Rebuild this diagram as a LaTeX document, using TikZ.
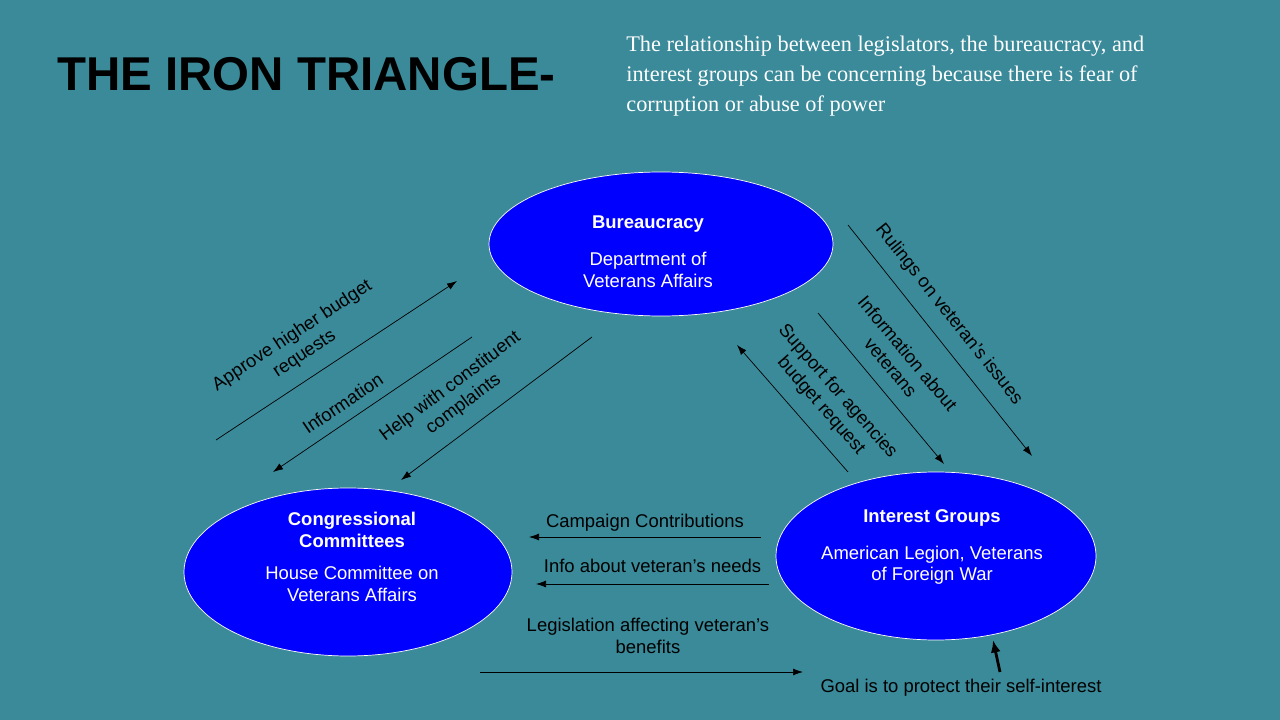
\documentclass[tikz,border=0pt]{standalone}
\usepackage{fontspec}
\setmainfont{Liberation Serif}
\setsansfont{Liberation Sans}
\usetikzlibrary{arrows.meta}
\definecolor{slidebg}{HTML}{3A8A9A}
\definecolor{ovalblue}{HTML}{0000FF}
\tikzset{
  oval/.style={draw=white, fill=ovalblue},
  actor/.style={text=white, font=\sffamily\fontsize{10.5}{12.5}\selectfont, align=center},
  flow/.style={draw=black, -{Latex[length=2mm,width=1.4mm]}},
  flowlabel/.style={font=\sffamily\fontsize{10.5}{12.5}\selectfont, align=center, sloped, above, inner sep=2pt}
}
\begin{document}
\begin{tikzpicture}[x=0.2mm,y=-0.2mm]
  \fill[slidebg] (0,0) rectangle (1280,720);
  \useasboundingbox (0,0) rectangle (1280,720);
  % title and note
  \node[anchor=west, font=\sffamily\bfseries\fontsize{27}{30}\selectfont, inner sep=0pt] (title) at (57,74) {THE IRON TRIANGLE-};
  \node[anchor=north west, text=white, align=left, font=\fontsize{12.7}{17}\selectfont, inner sep=0pt] (note) at (626,36)
    {The relationship between legislators, the bureaucracy, and\\interest groups can be concerning because there is fear of\\corruption or abuse of power};
  % the three actors
  \draw[oval] (661,244) ellipse [x radius=172, y radius=72];
  \node[actor] (bur) at (648,252) {\textbf{Bureaucracy}\\[3mm]Department of\\Veterans Affairs};
  \draw[oval] (348,572) ellipse [x radius=164, y radius=84];
  \node[actor] (cong) at (352,557) {\textbf{Congressional}\\\textbf{Committees}\\[2mm]House Committee on\\Veterans Affairs};
  \draw[oval] (936,556) ellipse [x radius=160, y radius=84];
  \node[actor] (ig) at (932,547) {\textbf{Interest Groups}\\[3mm]American Legion, Veterans\\of Foreign War};
  % end points of the connectors
  \coordinate (a1) at (216,440); \coordinate (b1) at (457,281);
  \coordinate (a2) at (472,337); \coordinate (b2) at (273,472);
  \coordinate (a3) at (592,337); \coordinate (b3) at (401,480);
  \coordinate (a4) at (848,472); \coordinate (b4) at (737,345);
  \coordinate (a5) at (818,313); \coordinate (b5) at (944,464);
  \coordinate (a6) at (848,225); \coordinate (b6) at (1032,456);
  \coordinate (a7) at (761,537); \coordinate (b7) at (529,537);
  \coordinate (a8) at (769,584); \coordinate (b8) at (536,584);
  \coordinate (a9) at (480,672); \coordinate (b9) at (803,672);
  \coordinate (a10) at (1000,672); \coordinate (b10) at (993,640);
  % connectors
  \draw[flow] (a1) -- node[flowlabel, pos=0.42, yshift=6pt] {Approve higher budget\\requests} (b1);
  \draw[flow] (a2) -- node[flowlabel, pos=0.6, yshift=4pt] {Information} (b2);
  \draw[flow] (a3) -- node[flowlabel, pos=0.6, yshift=6pt] {Help with constituent\\complaints} (b3);
  \draw[flow] (a4) -- node[flowlabel, pos=0.4, yshift=6pt] {Support for agencies\\budget request} (b4);
  \draw[flow] (a5) -- node[flowlabel, pos=0.45, yshift=6pt] {Information about\\veterans} (b5);
  \draw[flow] (a6) -- node[flowlabel, pos=0.45, yshift=6pt] {Rulings on veteran's issues} (b6);
  \draw[flow] (a7) -- node[flowlabel, pos=0.5, yshift=1pt] {Campaign Contributions} (b7);
  \draw[flow] (a8) -- node[flowlabel, pos=0.5, yshift=4pt] {Info about veteran's needs} (b8);
  \draw[flow] (a9) -- node[flowlabel, pos=0.52, yshift=8pt] {Legislation affecting veteran's\\benefits} (b9);
  \draw[draw=black, line width=1.6pt, -{Latex[length=2.5mm,width=2mm]}] (a10) -- (b10);
  \node[font=\sffamily\fontsize{10.5}{12.5}\selectfont] (goal) at (961,688) {Goal is to protect their self-interest};
\end{tikzpicture}
\end{document}
